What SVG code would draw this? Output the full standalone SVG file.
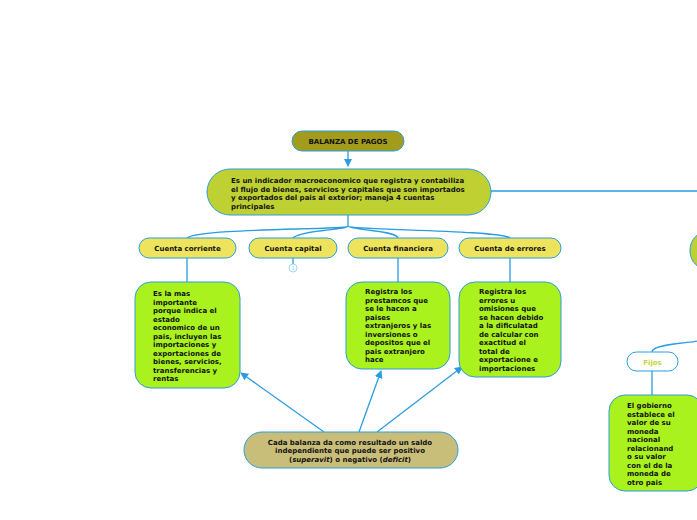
<svg xmlns="http://www.w3.org/2000/svg" width="697" height="520" viewBox="0 0 697 520">
<style>
text{font-family:"DejaVu Sans",Verdana,sans-serif;font-weight:bold;font-size:7px;fill:#111}
.n{stroke:#2a9de0;stroke-width:1}
.c{fill:none;stroke:#2a9de0;stroke-width:1.3}
.g{fill:#aaf21e}
.y{fill:#eee35c}
</style>
<defs><marker id="a" markerWidth="8" markerHeight="8" refX="7" refY="4" orient="auto" markerUnits="userSpaceOnUse"><path d="M0,0L8,4L0,8z" fill="#2a9de0"/></marker></defs>
<rect width="697" height="520" fill="#fff"/>
<g id="connectors">
<path class="c" d="M348,151V166" marker-end="url(#a)"/>
<path class="c" d="M491,191H697"/>
<path class="c" d="M348,215V226C348,230 200,228 187,238M348,226C348,230 300,230 293,238M348,226C348,230 396,230 398,238M348,226C348,230 500,230 510,238"/>
<path class="c" d="M187,258V282M398,258V282M510,258V282M293,258V264"/>
<path class="c" d="M324,432L241,373" marker-end="url(#a)"/>
<path class="c" d="M359,432L381,371" marker-end="url(#a)"/>
<path class="c" d="M377,432L462,367" marker-end="url(#a)"/>
<path class="c" d="M652,352C652,344 690,343 697,341M652,371V395"/>
</g>
<g id="title"><rect class="n" x="292" y="131" width="112" height="20" rx="10" fill="#a39b1b"/><text x="348" y="144" text-anchor="middle">BALANZA DE PAGOS</text></g>
<g id="main"><rect class="n" x="207" y="169" width="284" height="46" rx="23" fill="#bfd132"/>
<text x="231" y="183">Es un indicador macroeconomico que registra y contabiliza</text>
<text x="231" y="191.5">el flujo de bienes, servicios y capitales que son importados</text>
<text x="231" y="200">y exportados del pais al exterior; maneja 4 cuentas</text>
<text x="231" y="208.5">principales</text></g>
<g id="corriente"><rect class="n y" x="139" y="238" width="97" height="20" rx="10"/><text x="187.5" y="251" text-anchor="middle">Cuenta corriente</text></g>
<g id="capital"><rect class="n y" x="249" y="238" width="88" height="20" rx="10"/><text x="293" y="251" text-anchor="middle">Cuenta capital</text>
<circle cx="293" cy="268" r="4" fill="#fff" stroke="#8ccbf0" stroke-width="0.8"/><text x="293" y="270" text-anchor="middle" style="font-size:5px;fill:#8ccbf0;font-weight:normal">1</text></g>
<g id="financiera"><rect class="n y" x="348" y="238" width="100" height="20" rx="10"/><text x="398" y="251" text-anchor="middle">Cuenta financiera</text></g>
<g id="errores"><rect class="n y" x="459" y="238" width="102" height="20" rx="10"/><text x="510" y="251" text-anchor="middle">Cuenta de errores</text></g>
<g id="corriente-desc"><rect class="n g" x="135" y="282" width="105" height="106" rx="16"/>
<text x="153" y="296">Es la mas</text><text x="153" y="304.5">importante</text><text x="153" y="313">porque indica el</text><text x="153" y="321.5">estado</text><text x="153" y="330">economico de un</text><text x="153" y="338.5">pais, incluyen las</text><text x="153" y="347">importaciones y</text><text x="153" y="355.5">exportaciones de</text><text x="153" y="364">bienes, servicios,</text><text x="153" y="372.5">transferencias y</text><text x="153" y="381">rentas</text></g>
<g id="financiera-desc"><rect class="n g" x="346" y="282" width="104" height="87" rx="16"/>
<text x="365" y="294">Registra los</text><text x="365" y="302.5">prestamcos que</text><text x="365" y="311">se le hacen a</text><text x="365" y="319.5">paises</text><text x="365" y="328">extranjeros y las</text><text x="365" y="336.5">inversiones o</text><text x="365" y="345">depositos que el</text><text x="365" y="353.5">pais extranjero</text><text x="365" y="362">hace</text></g>
<g id="errores-desc"><rect class="n g" x="459" y="282" width="102" height="95" rx="16"/>
<text x="479" y="294">Registra los</text><text x="479" y="302.5">errores u</text><text x="479" y="311">omisiones que</text><text x="479" y="319.5">se hacen debido</text><text x="479" y="328">a la dificulatad</text><text x="479" y="336.5">de calcular con</text><text x="479" y="345">exactitud el</text><text x="479" y="353.5">total de</text><text x="479" y="362">exportacione e</text><text x="479" y="370.5">importaciones</text></g>
<g id="saldo"><rect class="n" x="244" y="432" width="214" height="36" rx="18" fill="#c9be79"/>
<text x="350" y="444.5" text-anchor="middle">Cada balanza da como resultado un saldo</text>
<text x="350" y="453" text-anchor="middle">independiente que puede ser positivo</text>
<text x="350" y="461.5" text-anchor="middle">(<tspan font-style="italic">superavit</tspan>) o negativo (<tspan font-style="italic">deficit</tspan>)</text></g>
<g id="right-node"><rect class="n" x="690" y="231" width="40" height="39" rx="19" fill="#bfd132"/></g>
<g id="fijos"><rect class="n" x="627" y="352" width="51" height="19" rx="9.5" fill="#fff"/><text x="652.5" y="364.5" text-anchor="middle" style="fill:#c5d43a">Fijos</text></g>
<g id="fijos-desc"><rect class="n g" x="609" y="395" width="94" height="96" rx="16"/>
<text x="627" y="408">El gobierno</text><text x="627" y="416.5">establece el</text><text x="627" y="425">valor de su</text><text x="627" y="433.5">moneda</text><text x="627" y="442">nacional</text><text x="627" y="450.5">relacionand</text><text x="627" y="459">o su valor</text><text x="627" y="467.5">con el de la</text><text x="627" y="476">moneda de</text><text x="627" y="484.5">otro pais</text></g>
</svg>
